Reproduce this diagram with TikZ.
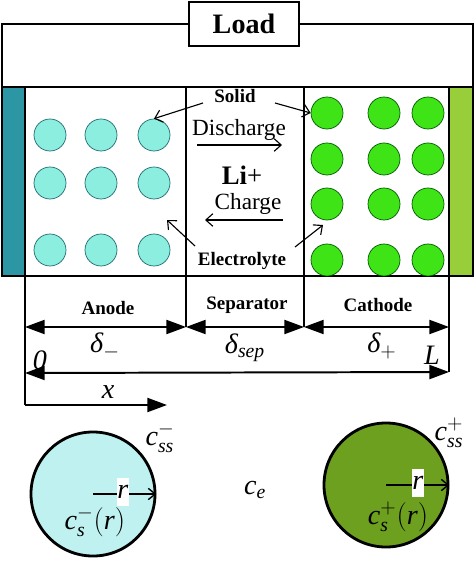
\documentclass[tikz,border=0pt]{standalone}
\usepackage{amsmath}
\usepackage{fontspec}
\setmainfont{Liberation Serif}
\usetikzlibrary{arrows.meta}
\definecolor{anodecc}{RGB}{44,150,164}
\definecolor{cathodecc}{RGB}{152,206,58}
\definecolor{anodepart}{RGB}{140,238,222}
\definecolor{cathodepart}{RGB}{62,228,22}
\definecolor{anodebig}{RGB}{192,241,241}
\definecolor{cathodebig}{RGB}{110,160,32}
\begin{document}
\begin{tikzpicture}[x=0.025cm,y=-0.025cm,
	wire/.style={line width=1pt},
	dimline/.style={line width=1.4pt},
	dimarr/.style={line width=1.4pt,{Triangle[length=14pt,width=10pt]}-{Triangle[length=14pt,width=10pt]}},
	thinarr/.style={line width=0.8pt,-{Straight Barb[length=5pt,width=9pt]}},
	rarr/.style={line width=1pt,-{Straight Barb[length=5pt,width=8pt]}},
	apart/.style={circle,draw=anodecc!70!black,line width=0.5pt,fill=anodepart,minimum size=0.8cm,inner sep=0pt},
	cpart/.style={circle,draw=green!35!black,line width=0.5pt,fill=cathodepart,minimum size=0.8cm,inner sep=0pt},
	boldtxt/.style={font=\fontsize{13.5}{15}\selectfont\bfseries,inner sep=1pt},
	midtxt/.style={font=\fontsize{16.5}{18}\selectfont,inner sep=1pt},
	mathtxt/.style={font=\fontsize{20}{22}\selectfont,inner sep=1pt},
	bigpart/.style={circle,draw,line width=2pt,minimum size=3.1cm,inner sep=0pt},
	rbox/.style={fill=white,inner sep=0pt,minimum width=0.28cm,minimum height=0.7cm,font=\fontsize{20}{22}\selectfont}]
	\useasboundingbox (0,0) rectangle (474,569);

	% load and wires
	\node[draw,line width=1pt,minimum width=2.75cm,minimum height=1.1cm,font=\fontsize{20}{22}\selectfont\bfseries] (load) at (244,24) {Load};
	\coordinate (tl) at (2,87);
	\coordinate (tr) at (473,87);
	\draw[wire] (load.west) -| (tl);
	\draw[wire] (load.east) -| (tr);

	% cell
	\draw[wire,fill=anodecc] (2,87) rectangle (25,276);
	\draw[wire,fill=cathodecc] (449,87) rectangle (473,276);
	\draw[wire] (tl) rectangle (473,276);
	\draw[wire] (186,87) -- (186,276);
	\draw[wire] (304,87) -- (304,276);

	\foreach \i/\x in {1/50,2/101,3/154}
		\foreach \j/\y in {1/135,2/183,3/250}
			\node[apart] (a-\i-\j) at (\x,\y) {};

	\foreach \i/\x in {1/327,2/384,3/428}
		\foreach \j/\y in {1/113,2/159,3/204,4/260}
			\node[cpart] (c-\i-\j) at (\x,\y) {};

	\node[boldtxt] (solid) at (235,96) {Solid};
	\node[midtxt] (dis) at (239,130) {Discharge};
	\node[font=\fontsize{19}{21}\selectfont] (li) at (242,175) {\textbf{Li}+};
	\node[midtxt] (chg) at (248,204) {Charge};
	\node[boldtxt] (elec) at (242,261) {Electrolyte};

	\coordinate (sl) at (203,103);
	\coordinate (sr) at (275,103);
	\draw[thinarr] (sl) -- (a-3-1.north);
	\draw[thinarr] (sr) -- (c-1-1.west);
	\coordinate (d0) at (197,145);
	\coordinate (d1) at (282,145);
	\draw[thinarr] (d0) -- (d1);
	\coordinate (g0) at (283,220);
	\coordinate (g1) at (205,220);
	\draw[thinarr] (g0) -- (g1);
	\coordinate (e0) at (195,246);
	\coordinate (el) at (167,220);
	\coordinate (e1) at (295,247);
	\coordinate (er) at (323,225);
	\draw[thinarr] (e0) -- (el);
	\draw[thinarr] (e1) -- (er);

	% dimensions
	\coordinate (x0) at (25,276);
	\coordinate (x1) at (186,276);
	\coordinate (x2) at (304,276);
	\coordinate (x3) at (449,276);
	\coordinate (y0) at (25,405);
	\coordinate (y1) at (186,327);
	\coordinate (y2) at (304,327);
	\coordinate (y3) at (449,372);
	\draw[dimline] (x0) -- (y0);
	\draw[dimline] (x1) -- (y1);
	\draw[dimline] (x2) -- (y2);
	\draw[dimline] (x3) -- (y3);

	\node[boldtxt] (anode) at (108,308) {Anode};
	\node[boldtxt] (sep) at (247,305) {Separator};
	\node[boldtxt] (cath) at (378,305) {Cathode};

	\coordinate (m0) at (25,327);
	\coordinate (m3) at (449,327);
	\draw[dimarr] (m0) -- (y1);
	\draw[dimarr] (y1) -- (y2);
	\draw[dimarr] (y2) -- (m3);

	\node[mathtxt] (dneg) at (105,346) {$\textit{δ}_{-}$};
	\node[mathtxt] (dsep) at (245,348) {$\textit{δ}_{\textit{sep}}$};
	\node[mathtxt] (dpos) at (382,346) {$\textit{δ}_{+}$};
	\node[mathtxt] (zero) at (40,360) {\textit{0}};
	\node[mathtxt] (len) at (432,355) {\textit{L}};

	\coordinate (l0) at (25,373);
	\draw[dimarr] (l0) -- (y3);
	\node[mathtxt] (xl) at (108,392) {\textit{x}};
	\coordinate (xe) at (167,405);
	\draw[line width=1.4pt,-{Triangle[length=14pt,width=10pt]}] (y0) -- (xe);

	% particles
	\node[bigpart,fill=anodebig] (sL) at (93,494) {};
	\draw[rarr] (sL.center) -- (sL.east);
	\node[rbox] (rL) at (123,492) {\textit{r}};
	\node[mathtxt] (csL) at (95,522) {$\textit{c}_{\textit{s}}^{-}(\textit{r})$};
	\node[mathtxt] (cssL) at (160,438) {$\textit{c}_{\textit{ss}}^{-}$};

	\node[mathtxt] (ce) at (255,490) {$\textit{c}_{\textit{e}}$};

	\node[bigpart,fill=cathodebig] (sR) at (386,485) {};
	\draw[rarr] (sR.center) -- (sR.east);
	\node[rbox] (rR) at (418,483) {\textit{r}};
	\node[mathtxt] (csR) at (398,517) {$\textit{c}_{\textit{s}}^{+}(\textit{r})$};
	\node[mathtxt] (cssR) at (449,433) {$\textit{c}_{\textit{ss}}^{+}$};
\end{tikzpicture}
\end{document}
